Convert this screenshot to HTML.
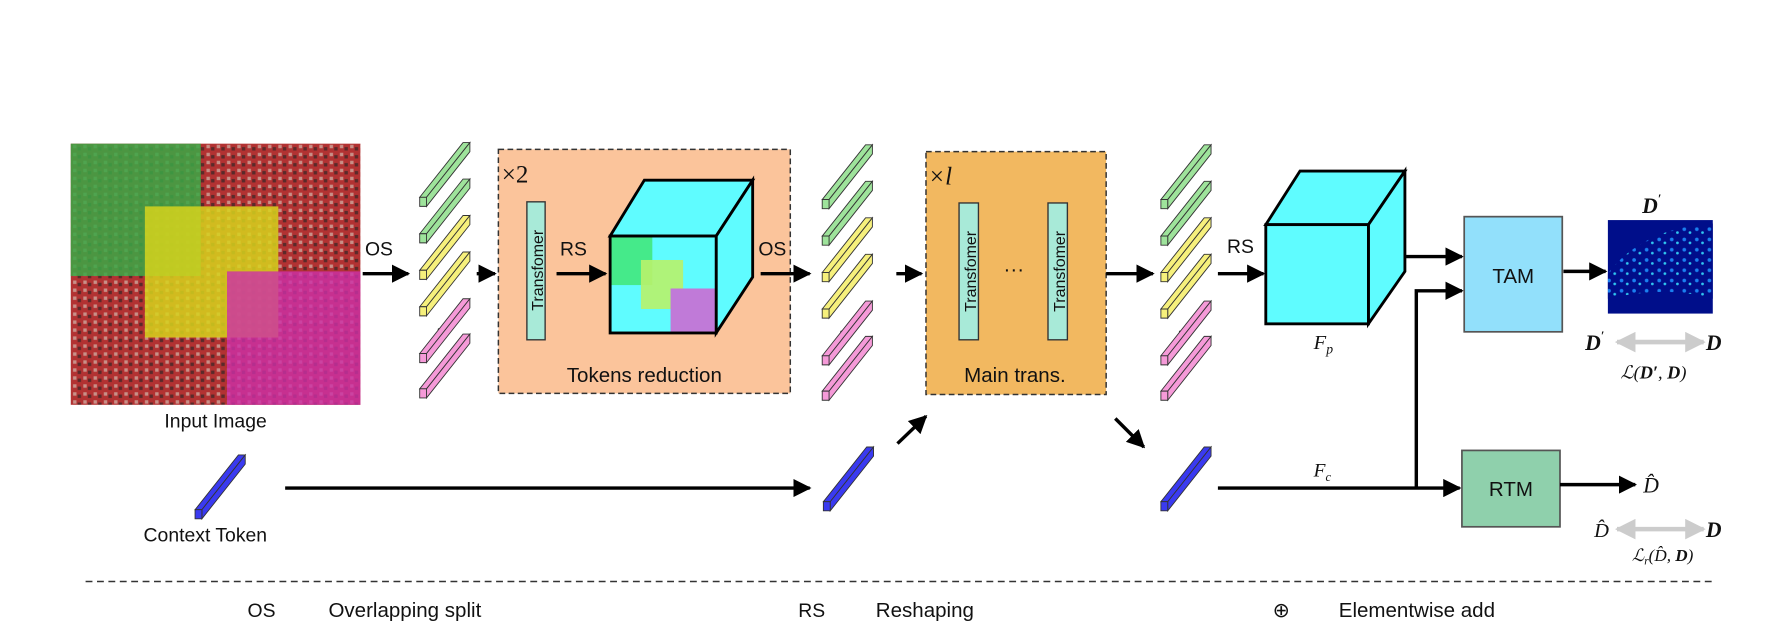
<!DOCTYPE html>
<html><head><meta charset="utf-8"><style>
html,body{margin:0;padding:0;background:#fff;}
svg{display:block}
text{font-family:"Liberation Sans","DejaVu Sans",sans-serif;fill:#111}
.m{font-family:"Liberation Serif",serif;font-style:italic}
</style></head><body>
<svg width="1779" height="634" viewBox="0 0 1560 556" xmlns="http://www.w3.org/2000/svg">
<defs>
<marker id="ah2" viewBox="0 0 10 10" markerWidth="16" markerHeight="16" refX="9" refY="5" orient="auto" markerUnits="userSpaceOnUse">
<path d="M0,0 L10,5 L0,10 z" fill="#000"/></marker>
<marker id="gh" viewBox="0 0 10 10" markerWidth="18" markerHeight="18" refX="9" refY="5" orient="auto-start-reverse" markerUnits="userSpaceOnUse">
<path d="M0,0 L10,5 L0,10 z" fill="#ccc"/></marker>
<g id="bar">
<polygon points="-44,48 -38,48 0,0 -6,0" fill="currentColor" stroke="#333" stroke-width="0.8"/>
<polygon points="-38,48 -38,56 0,8 0,0" fill="currentColor" stroke="#333" stroke-width="0.8"/>
<polygon points="-44,48 -38,48 -38,56 -44,56" fill="currentColor" stroke="#333" stroke-width="0.8"/>
</g>
<g id="stack">
<use href="#bar" x="0" y="0" style="color:#9ee39b"/>
<use href="#bar" x="0" y="32" style="color:#9ee39b"/>
<use href="#bar" x="0" y="64" style="color:#f6f07c"/>
<use href="#bar" x="0" y="96" style="color:#f6f07c"/>
<circle cx="-27" cy="164" r="1.2" fill="#333"/><circle cx="-27" cy="170" r="1.2" fill="#333"/><circle cx="-27" cy="176" r="1.2" fill="#333"/>
<use href="#bar" x="0" y="137" style="color:#f59ad8"/>
<use href="#bar" x="0" y="168" style="color:#f59ad8"/>
</g>
<pattern id="crowd" width="9" height="7" patternUnits="userSpaceOnUse">
<rect width="9" height="7" fill="#b23232"/><rect x="1" y="1" width="3" height="3" fill="#c89088"/><rect x="5" y="3" width="3" height="3" fill="#5a2a2a"/>
</pattern>
<pattern id="heat" width="11" height="9" patternUnits="userSpaceOnUse">
<rect width="11" height="9" fill="#000e8a"/><circle cx="3" cy="3" r="1.6" fill="#1a80f0"/><circle cx="8" cy="6" r="1.2" fill="#30c8f0"/>
</pattern>
</defs>

<rect x="62" y="126" width="254" height="229" fill="url(#crowd)"/>
<rect x="62" y="126" width="114" height="116" fill="#39a845" opacity="0.85"/>
<rect x="127" y="181" width="117" height="115" fill="#d6d41c" opacity="0.85"/>
<rect x="199" y="238" width="117" height="117" fill="#cc2fa8" opacity="0.8"/>
<text x="189" y="375" font-size="17" text-anchor="middle">Input Image</text>

<text x="320" y="224" font-size="17">OS</text>
<line x1="318" y1="240" x2="358" y2="240" stroke="#000" stroke-width="3" marker-end="url(#ah2)"/>
<use href="#stack" x="412" y="125"/>
<line x1="418" y1="240" x2="434" y2="240" stroke="#000" stroke-width="3" marker-end="url(#ah2)"/>

<rect x="437" y="131" width="256" height="214" fill="#fbc49b" stroke="#333" stroke-width="1.3" stroke-dasharray="5,3"/>
<text x="440" y="160" font-size="22" class="m" style="font-style:normal">×2</text>
<rect x="462" y="177" width="16" height="121" fill="#a8ead8" stroke="#333" stroke-width="1.2"/>
<text transform="translate(476,237) rotate(-90)" font-size="14" text-anchor="middle">Transfomer</text>
<text x="491" y="224" font-size="17">RS</text>
<line x1="488" y1="240" x2="531" y2="240" stroke="#000" stroke-width="3" marker-end="url(#ah2)"/>
<polygon points="535,207 565,158 660,158 628,207" fill="#5ffcff" stroke="#000" stroke-width="2.5"/>
<polygon points="628,207 660,158 660,243 628,292" fill="#5ffcff" stroke="#000" stroke-width="2.5"/>
<rect x="535" y="207" width="93" height="85" fill="#5ffcff"/>
<rect x="535" y="207" width="37" height="43" fill="#45ea8a"/>
<rect x="562" y="228" width="37" height="43" fill="#b8f26a" opacity="0.9"/>
<rect x="588" y="253" width="40" height="39" fill="#c07ad8"/>
<rect x="535" y="207" width="93" height="85" fill="none" stroke="#000" stroke-width="2.5"/>
<text x="565" y="335" font-size="18" text-anchor="middle">Tokens reduction</text>
<text x="665" y="224" font-size="17">OS</text>
<line x1="667" y1="240" x2="710" y2="240" stroke="#000" stroke-width="3" marker-end="url(#ah2)"/>
<use href="#stack" x="765" y="127"/>
<line x1="786" y1="240" x2="808" y2="240" stroke="#000" stroke-width="3" marker-end="url(#ah2)"/>

<rect x="812" y="133" width="158" height="213" fill="#f2b860" stroke="#333" stroke-width="1.3" stroke-dasharray="5,3"/>
<text x="814" y="162" font-size="22" class="m">×l</text>
<rect x="841" y="178" width="17" height="120" fill="#a8ead8" stroke="#333" stroke-width="1.2"/>
<text transform="translate(856,238) rotate(-90)" font-size="14" text-anchor="middle">Transfomer</text>
<rect x="919" y="178" width="17" height="120" fill="#a8ead8" stroke="#333" stroke-width="1.2"/>
<text transform="translate(934,238) rotate(-90)" font-size="14" text-anchor="middle">Transfomer</text>
<text x="889" y="242" font-size="18" text-anchor="middle">···</text>
<text x="890" y="335" font-size="18" text-anchor="middle">Main trans.</text>
<line x1="970" y1="240" x2="1011" y2="240" stroke="#000" stroke-width="3" marker-end="url(#ah2)"/>
<use href="#stack" x="1062" y="127"/>

<text x="1076" y="222" font-size="17">RS</text>
<line x1="1068" y1="240" x2="1108" y2="240" stroke="#000" stroke-width="3" marker-end="url(#ah2)"/>
<polygon points="1110,197 1140,150 1232,150 1200,197" fill="#5ffcff" stroke="#000" stroke-width="2.5"/>
<polygon points="1200,197 1232,150 1232,238 1200,284" fill="#5ffcff" stroke="#000" stroke-width="2.5"/>
<rect x="1110" y="197" width="90" height="87" fill="#5ffcff" stroke="#000" stroke-width="2.5"/>
<text x="1152" y="306" font-size="18" class="m">F<tspan font-size="12" dy="4">p</tspan></text>

<line x1="1233" y1="225" x2="1282" y2="225" stroke="#000" stroke-width="3" marker-end="url(#ah2)"/>
<polyline points="1242,428 1242,255 1282,255" fill="none" stroke="#000" stroke-width="3" marker-end="url(#ah2)"/>
<rect x="1284" y="190" width="86" height="101" fill="#92e0fb" stroke="#555" stroke-width="1.5"/>
<text x="1327" y="248" font-size="18" text-anchor="middle">TAM</text>
<line x1="1371" y1="238" x2="1408" y2="238" stroke="#000" stroke-width="3" marker-end="url(#ah2)"/>
<rect x="1410" y="193" width="92" height="82" fill="#000e8a"/>
<path d="M1410,240 Q1440,200 1502,196 L1502,262 Q1460,250 1410,262 z" fill="url(#heat)"/>
<text x="1440" y="187" font-size="19" class="m" font-weight="bold">D<tspan font-size="11" dy="-9">′</tspan></text>
<text x="1390" y="307" font-size="19" class="m" font-weight="bold">D<tspan font-size="11" dy="-9">′</tspan></text>
<line x1="1418" y1="300" x2="1494" y2="300" stroke="#ccc" stroke-width="4" marker-start="url(#gh)" marker-end="url(#gh)"/>
<text x="1496" y="307" font-size="19" class="m" font-weight="bold">D</text>
<text x="1450" y="332" font-size="16" class="m" text-anchor="middle">ℒ(<tspan font-weight="bold">D′</tspan>, <tspan font-weight="bold">D</tspan>)</text>

<use href="#bar" x="215" y="399" style="color:#3a3af0"/>
<text x="180" y="475" font-size="17" text-anchor="middle">Context Token</text>
<line x1="250" y1="428" x2="710" y2="428" stroke="#000" stroke-width="3" marker-end="url(#ah2)"/>
<use href="#bar" x="766" y="392" style="color:#3a3af0"/>
<line x1="787" y1="389" x2="812" y2="365" stroke="#000" stroke-width="3" marker-end="url(#ah2)"/>
<line x1="978" y1="367" x2="1003" y2="392" stroke="#000" stroke-width="3" marker-end="url(#ah2)"/>
<use href="#bar" x="1062" y="392" style="color:#3a3af0"/>
<line x1="1068" y1="428" x2="1280" y2="428" stroke="#000" stroke-width="3" marker-end="url(#ah2)"/>
<text x="1152" y="418" font-size="17" class="m">F<tspan font-size="11" dy="4">c</tspan></text>
<rect x="1282" y="395" width="86" height="67" fill="#8fd0ac" stroke="#555" stroke-width="1.5"/>
<text x="1325" y="435" font-size="18" text-anchor="middle">RTM</text>
<line x1="1368" y1="425" x2="1434" y2="425" stroke="#000" stroke-width="3" marker-end="url(#ah2)"/>
<text x="1441" y="432" font-size="19" class="m">D̂</text>
<text x="1398" y="471" font-size="18" class="m">D̂</text>
<line x1="1418" y1="464" x2="1494" y2="464" stroke="#ccc" stroke-width="4" marker-start="url(#gh)" marker-end="url(#gh)"/>
<text x="1496" y="471" font-size="19" class="m" font-weight="bold">D</text>
<text x="1458" y="492" font-size="15" class="m" text-anchor="middle">ℒ<tspan font-size="10" dy="3">r</tspan><tspan dy="-3">(D̂, </tspan><tspan font-weight="bold">D</tspan>)</text>

<line x1="75" y1="510" x2="1505" y2="510" stroke="#333" stroke-width="1.3" stroke-dasharray="6,4"/>
<text x="217" y="541" font-size="17">OS</text>
<text x="288" y="541" font-size="18">Overlapping split</text>
<text x="700" y="541" font-size="17">RS</text>
<text x="768" y="541" font-size="18">Reshaping</text>
<text x="1116" y="541" font-size="18">⊕</text>
<text x="1174" y="541" font-size="18">Elementwise add</text>
</svg>
</body></html>
